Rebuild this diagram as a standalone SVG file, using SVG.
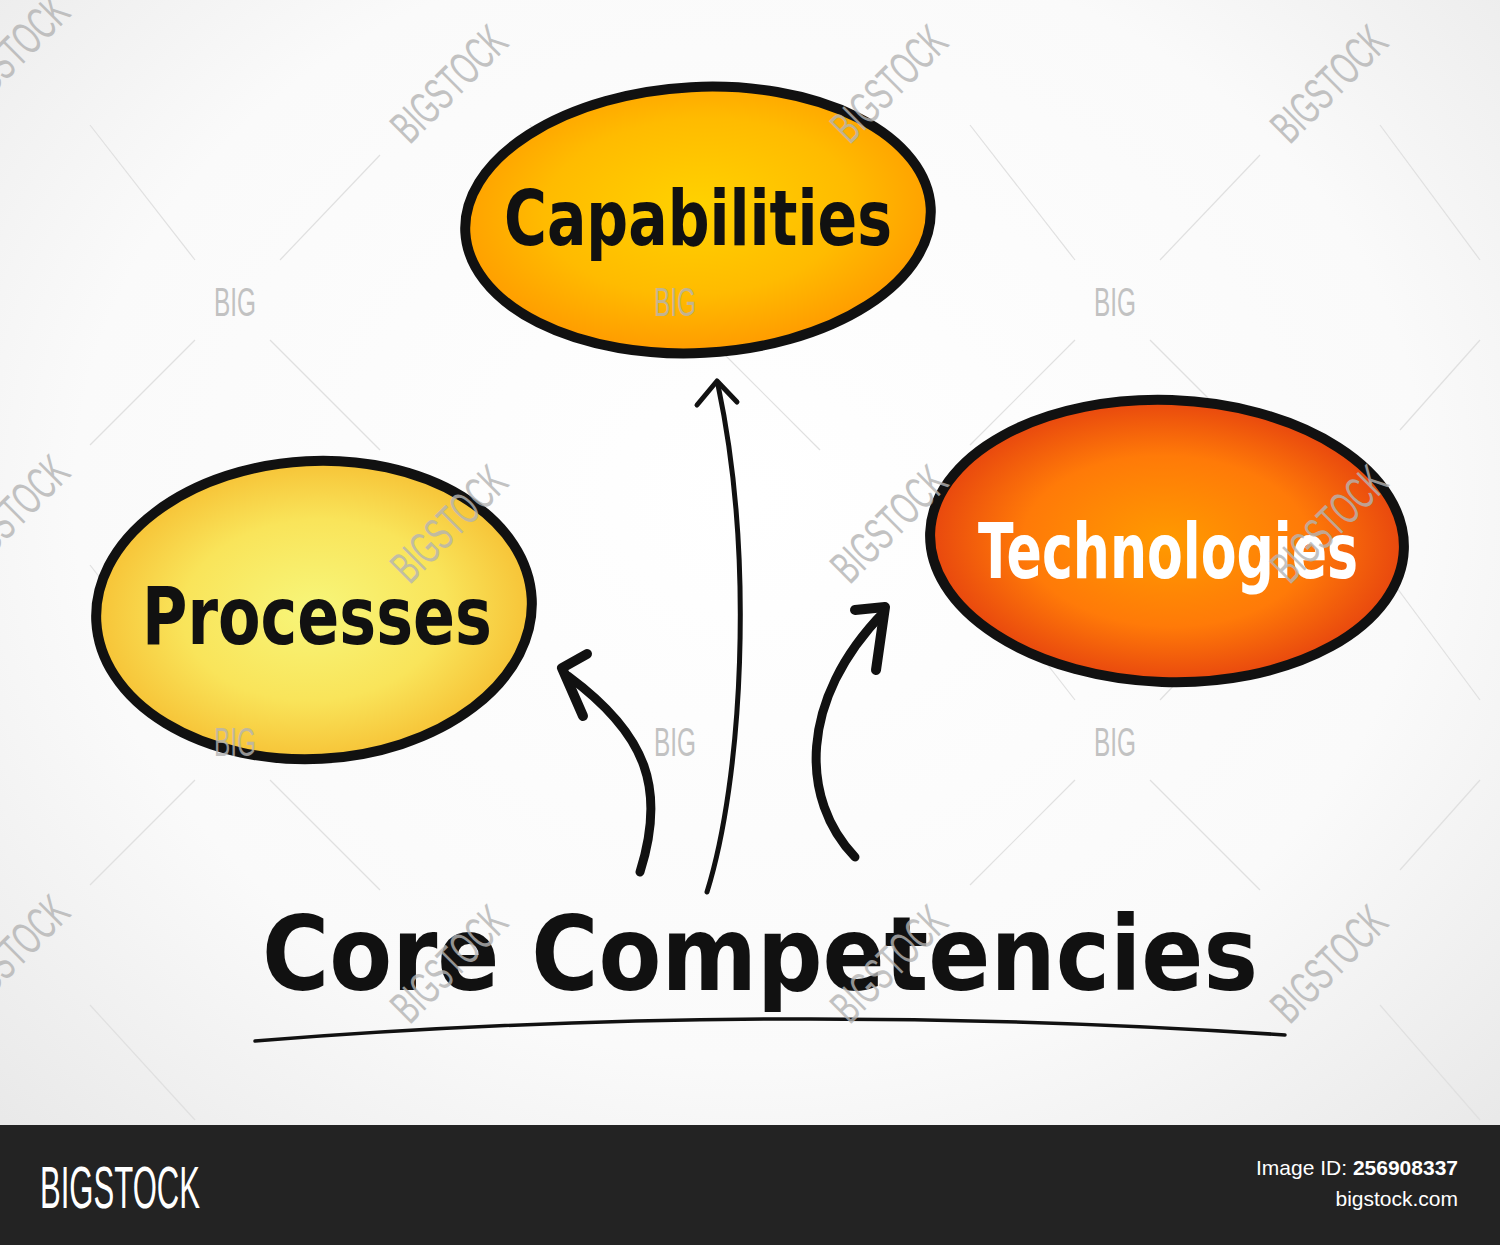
<svg xmlns="http://www.w3.org/2000/svg" width="1500" height="1245" viewBox="0 0 1500 1245">
<defs>
<radialGradient id="bg" cx="50%" cy="40%" r="75%">
<stop offset="0" stop-color="#ffffff"/><stop offset="0.6" stop-color="#fafafa"/><stop offset="1" stop-color="#e6e6e6"/>
</radialGradient>
<radialGradient id="gCap" cx="50%" cy="45%" r="55%">
<stop offset="0" stop-color="#ffd200"/><stop offset="0.6" stop-color="#ffbb00"/><stop offset="1" stop-color="#ff9a00"/>
</radialGradient>
<radialGradient id="gTech" cx="50%" cy="50%" r="55%">
<stop offset="0" stop-color="#ff9a00"/><stop offset="0.55" stop-color="#ff7a08"/><stop offset="1" stop-color="#e23a10"/>
</radialGradient>
<radialGradient id="gProc" cx="50%" cy="50%" r="55%">
<stop offset="0" stop-color="#f7f67a"/><stop offset="0.55" stop-color="#f9e45a"/><stop offset="1" stop-color="#f6bb2e"/>
</radialGradient>
</defs>
<style>
.oval{stroke:#111;stroke-width:10}
.lbl{font-family:"DejaVu Sans","Liberation Sans",sans-serif;font-weight:bold;fill:#111}
.arr{fill:none;stroke:#111;stroke-linecap:round;stroke-linejoin:round}
.wm{font-family:"Liberation Sans Narrow","Liberation Sans",sans-serif;fill:#b4b4b4;opacity:0.8}
.wl{stroke:#e0e0e0;stroke-width:1.2}
.foot{font-family:"Liberation Sans Narrow","Liberation Sans",sans-serif;fill:#fff}
</style>
<rect width="1500" height="1245" fill="url(#bg)"/>

<g id="watermark-lines">
<line class="wl" x1="90" y1="125" x2="195" y2="260"/>
<line class="wl" x1="270" y1="340" x2="380" y2="450"/>
<line class="wl" x1="90" y1="565" x2="195" y2="700"/>
<line class="wl" x1="270" y1="780" x2="380" y2="890"/>
<line class="wl" x1="530" y1="125" x2="635" y2="260"/>
<line class="wl" x1="710" y1="340" x2="820" y2="450"/>
<line class="wl" x1="970" y1="125" x2="1075" y2="260"/>
<line class="wl" x1="1150" y1="340" x2="1260" y2="450"/>
<line class="wl" x1="1380" y1="125" x2="1480" y2="260"/>
<line class="wl" x1="970" y1="565" x2="1075" y2="700"/>
<line class="wl" x1="1150" y1="780" x2="1260" y2="890"/>
<line class="wl" x1="1380" y1="565" x2="1480" y2="700"/>
<line class="wl" x1="90" y1="1005" x2="195" y2="1120"/>
<line class="wl" x1="1380" y1="1005" x2="1480" y2="1120"/>
<line class="wl" x1="380" y1="155" x2="280" y2="260"/>
<line class="wl" x1="820" y1="155" x2="720" y2="260"/>
<line class="wl" x1="1260" y1="155" x2="1160" y2="260"/>
<line class="wl" x1="380" y1="595" x2="280" y2="700"/>
<line class="wl" x1="1260" y1="595" x2="1160" y2="700"/>
<line class="wl" x1="195" y1="340" x2="90" y2="445"/>
<line class="wl" x1="1075" y1="340" x2="970" y2="445"/>
<line class="wl" x1="195" y1="780" x2="90" y2="885"/>
<line class="wl" x1="1075" y1="780" x2="970" y2="885"/>
<line class="wl" x1="1480" y1="340" x2="1400" y2="430"/>
<line class="wl" x1="1480" y1="780" x2="1400" y2="870"/>
</g>

<g id="connectors">
<path class="arr" stroke-width="9" d="M640 872 C666 790 648 735 568 676"/>
<path class="arr" stroke-width="10" d="M583 716 L562 668 L587 654"/>
<path class="arr" stroke-width="5" d="M707 892 C742 780 755 560 718 385"/>
<path class="arr" stroke-width="5" d="M697 405 L717 381 L737 402"/>
<path class="arr" stroke-width="9" d="M855 857 C800 800 798 700 884 612"/>
<path class="arr" stroke-width="10" d="M855 610 L885 607 L876 670"/>
</g>

<g id="node-capabilities">
<ellipse class="oval" cx="698" cy="220" rx="233" ry="133" fill="url(#gCap)" transform="rotate(-3 698 220)"/>
<text class="lbl" x="698" y="245" font-size="76" text-anchor="middle" textLength="388" lengthAdjust="spacingAndGlyphs">Capabilities</text>
</g>

<g id="node-technologies">
<ellipse class="oval" cx="1167" cy="541" rx="237" ry="141" fill="url(#gTech)" transform="rotate(2 1167 541)"/>
<text class="lbl" x="1168" y="578" font-size="76" text-anchor="middle" textLength="380" lengthAdjust="spacingAndGlyphs" style="fill:#fff">Technologies</text>
</g>

<g id="node-processes">
<ellipse class="oval" cx="314" cy="610" rx="218" ry="149" fill="url(#gProc)" transform="rotate(-3 314 610)"/>
<text class="lbl" x="317" y="644" font-size="80" text-anchor="middle" textLength="350" lengthAdjust="spacingAndGlyphs">Processes</text>
</g>

<g id="node-core">
<text class="lbl" x="760" y="990" font-size="104" text-anchor="middle" textLength="996" lengthAdjust="spacingAndGlyphs">Core Competencies</text>
<path d="M255 1041 Q770 1000 1285 1035" fill="none" stroke="#111" stroke-width="3.5" stroke-linecap="round"/>
</g>

<g id="watermarks">
<text class="wm" font-size="46" text-anchor="middle" transform="translate(460 95) rotate(-45) scale(0.6 1)">BIGSTOCK</text>
<text class="wm" font-size="46" text-anchor="middle" transform="translate(900 95) rotate(-45) scale(0.6 1)">BIGSTOCK</text>
<text class="wm" font-size="46" text-anchor="middle" transform="translate(1340 95) rotate(-45) scale(0.6 1)">BIGSTOCK</text>
<text class="wm" font-size="46" text-anchor="middle" transform="translate(22 65) rotate(-45) scale(0.6 1)">BIGSTOCK</text>
<text class="wm" font-size="46" text-anchor="middle" transform="translate(460 535) rotate(-45) scale(0.6 1)">BIGSTOCK</text>
<text class="wm" font-size="46" text-anchor="middle" transform="translate(900 535) rotate(-45) scale(0.6 1)">BIGSTOCK</text>
<text class="wm" font-size="46" text-anchor="middle" transform="translate(1340 535) rotate(-45) scale(0.6 1)">BIGSTOCK</text>
<text class="wm" font-size="46" text-anchor="middle" transform="translate(22 525) rotate(-45) scale(0.6 1)">BIGSTOCK</text>
<text class="wm" font-size="46" text-anchor="middle" transform="translate(460 975) rotate(-45) scale(0.6 1)">BIGSTOCK</text>
<text class="wm" font-size="46" text-anchor="middle" transform="translate(900 975) rotate(-45) scale(0.6 1)">BIGSTOCK</text>
<text class="wm" font-size="46" text-anchor="middle" transform="translate(1340 975) rotate(-45) scale(0.6 1)">BIGSTOCK</text>
<text class="wm" font-size="46" text-anchor="middle" transform="translate(22 965) rotate(-45) scale(0.6 1)">BIGSTOCK</text>
<text class="wm" font-size="40" text-anchor="middle" x="235" y="316" textLength="42" lengthAdjust="spacingAndGlyphs">BIG</text>
<text class="wm" font-size="40" text-anchor="middle" x="675" y="316" textLength="42" lengthAdjust="spacingAndGlyphs">BIG</text>
<text class="wm" font-size="40" text-anchor="middle" x="1115" y="316" textLength="42" lengthAdjust="spacingAndGlyphs">BIG</text>
<text class="wm" font-size="40" text-anchor="middle" x="235" y="756" textLength="42" lengthAdjust="spacingAndGlyphs">BIG</text>
<text class="wm" font-size="40" text-anchor="middle" x="675" y="756" textLength="42" lengthAdjust="spacingAndGlyphs">BIG</text>
<text class="wm" font-size="40" text-anchor="middle" x="1115" y="756" textLength="42" lengthAdjust="spacingAndGlyphs">BIG</text>
</g>

<g id="footer">
<rect x="0" y="1125" width="1500" height="120" fill="#232323"/>
<text class="foot" x="40" y="1208" font-size="60" textLength="160" lengthAdjust="spacingAndGlyphs">BIGSTOCK</text>
<text class="foot" x="1458" y="1175" font-size="21" text-anchor="end">Image ID: <tspan font-weight="bold">256908337</tspan></text>
<text class="foot" x="1458" y="1206" font-size="21" text-anchor="end">bigstock.com</text>
</g>
</svg>
